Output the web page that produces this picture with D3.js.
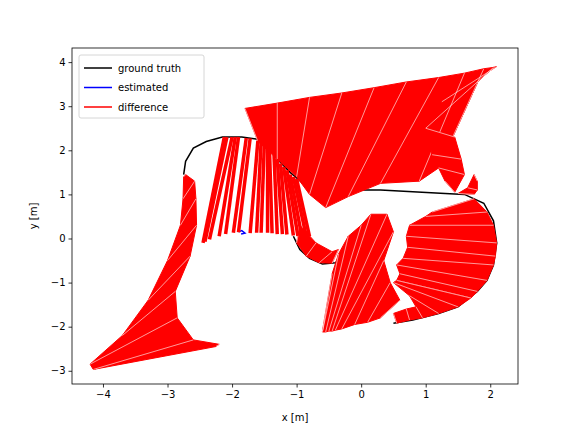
<!DOCTYPE html>
<html>
<head>
<meta charset="UTF-8">
<script src="https://d3js.org/d3.v7.min.js"></script>
<style>
  body { margin: 0; background: #fff; }
  text { font-family: "DejaVu Sans", sans-serif; }
</style>
</head>
<body>
<div id="chart"></div>
<script>
// ground truth path (visible parts)
const groundTruth = [[-2.75,1.45],[-2.72,1.75],[-2.6,2.05],[-2.4,2.2],[-2.15,2.3],[-1.85,2.3],[-1.6,2.25],[-1.45,2.1],[-1.3,1.8],[-1.1,1.5],[-0.9,1.25],[-0.6,1.12],[-0.2,1.1],[0.3,1.1],[0.8,1.06],[1.3,1.02],[1.6,1.0],[1.9,0.8],[2.05,0.4],[2.1,-0.1],[2.05,-0.6],[1.95,-0.95],[1.8,-1.2],[1.5,-1.55],[1.2,-1.7],[0.8,-1.85],[0.5,-1.92]];
const gtLoop = [[-1.05,0.05],[-0.95,-0.25],[-0.8,-0.45],[-0.6,-0.58],[-0.4,-0.55],[-0.3,-0.45]];
const estimated = [[-1.9,0.15],[-1.85,0.18],[-1.8,0.12],[-1.86,0.1]];

// difference regions: paired ground truth / estimate samples
const leftWedgeGt  = [[-2.72,1.45],[-2.58,1.3],[-2.56,0.9],[-2.55,0.3],[-2.65,-0.4],[-2.88,-1.2],[-2.85,-1.8],[-2.6,-2.3],[-2.2,-2.4]];
const leftWedgeEst = [[-2.75,1.4],[-2.76,0.9],[-2.8,0.3],[-3.0,-0.5],[-3.3,-1.4],[-3.7,-2.2],[-4.2,-2.85],[-4.15,-2.97],[-2.25,-2.45]];
const topFanGt  = [[-1.6,2.2],[-1.3,1.8],[-1.0,1.4],[-0.8,1.0],[-0.55,0.7],[-0.2,0.95],[0.3,1.25],[0.9,1.3],[1.2,1.6],[1.0,2.5],[1.25,3.1]];
const topFanEst = [[-1.8,2.95],[-1.3,3.07],[-0.8,3.2],[-0.3,3.3],[0.2,3.42],[0.7,3.55],[1.2,3.65],[1.6,3.75],[1.9,3.85],[2.05,3.88],[2.1,3.9]];
const sideFanGt  = [[1.45,2.3],[1.55,1.8],[1.6,1.45],[1.45,1.05]];
const sideFanEst = [[1.0,2.5],[1.1,1.9],[1.2,1.6],[1.3,1.3]];
const nookGt  = [[1.5,1.02],[1.65,1.15],[1.75,1.45]];
const nookEst = [[1.75,1.0],[1.8,1.1],[1.8,1.3]];
const thinFanGt  = [[-2.12,2.3],[-2.08,2.3],[-2.0,2.3],[-1.95,2.3],[-1.9,2.3],[-1.78,2.28],[-1.72,2.27],[-1.6,2.22],[-1.55,2.2],[-1.5,2.15],[-1.45,2.05],[-1.42,2.0],[-1.35,1.9],[-1.3,1.8],[-1.25,1.7],[-1.2,1.62],[-1.15,1.55],[-1.1,1.45],[-1.05,1.4],[-1.0,1.35]];
const thinFanEst = [[-2.45,-0.1],[-2.42,-0.07],[-2.35,-0.02],[-2.2,0.05],[-2.1,0.1],[-1.98,0.13],[-1.9,0.14],[-1.72,0.12],[-1.62,0.13],[-1.55,0.13],[-1.45,0.13],[-1.38,0.12],[-1.3,0.1],[-1.22,0.1],[-1.15,0.09],[-1.05,0.07],[-0.98,0.06],[-0.92,0.05],[-0.85,0.05],[-0.8,0.05]];
const rightBlobGt  = [[1.75,0.9],[1.95,0.6],[2.05,0.3],[2.1,-0.1],[2.08,-0.4],[2.05,-0.6],[1.95,-0.95],[1.8,-1.2],[1.7,-1.35]];
const rightBlobEst = [[1.1,0.6],[1.0,0.5],[0.75,0.3],[0.7,0.05],[0.72,-0.2],[0.65,-0.45],[0.55,-0.6],[0.6,-0.8],[0.55,-0.95]];
const lowFanGt  = [[1.7,-1.35],[1.5,-1.55],[1.2,-1.7],[0.95,-1.8],[0.75,-1.85],[0.55,-1.92]];
const lowFanEst = [[0.55,-0.95],[0.5,-1.0],[0.75,-1.3],[0.85,-1.55],[0.7,-1.6],[0.5,-1.7]];
const midFanGt  = [[-0.6,-2.1],[-0.6,-2.12],[-0.55,-2.12],[-0.5,-2.1],[-0.45,-2.1],[-0.4,-2.08],[-0.3,-2.05],[-0.1,-1.95],[0.1,-1.9],[0.3,-1.8]];
const midFanEst = [[-0.45,-0.8],[-0.35,-0.35],[-0.2,0.05],[0.0,0.3],[0.15,0.55],[0.4,0.55],[0.5,0.15],[0.35,-0.5],[0.45,-1.0],[0.6,-1.4]];
const loopFanGt  = [[-1.0,-0.1],[-0.85,-0.4],[-0.65,-0.55],[-0.45,-0.56]];
const loopFanEst = [[-0.95,0.3],[-0.7,-0.1],[-0.45,-0.3],[-0.35,-0.25]];

const regions = [
  [leftWedgeGt, leftWedgeEst], [topFanGt, topFanEst], [sideFanGt, sideFanEst],
  [nookGt, nookEst], [rightBlobGt, rightBlobEst], [lowFanGt, lowFanEst],
  [midFanGt, midFanEst], [loopFanGt, loopFanEst]
];

const xTicks = [-4, -3, -2, -1, 0, 1, 2];
const yTicks = [-3, -2, -1, 0, 1, 2, 3, 4];

const W = 576, H = 432;
const margin = {top: 48, right: 58, bottom: 48, left: 72};

const svg = d3.select("#chart").append("svg").attr("width", W).attr("height", H);

const x = d3.scaleLinear().domain([-4.48, 2.43]).range([margin.left, W - margin.right]);
const y = d3.scaleLinear().domain([-3.3, 4.32]).range([H - margin.bottom, margin.top]);

const line = d3.line().x(d => x(d[0])).y(d => y(d[1]));

svg.append("defs").append("clipPath").attr("id", "clip")
  .append("rect").attr("x", margin.left).attr("y", margin.top)
  .attr("width", W - margin.left - margin.right).attr("height", H - margin.top - margin.bottom);

const plot = svg.append("g").attr("clip-path", "url(#clip)");

plot.append("path").attr("d", line(groundTruth)).attr("fill", "none").attr("stroke", "black").attr("stroke-width", 1.5);
plot.append("path").attr("d", line(gtLoop)).attr("fill", "none").attr("stroke", "black").attr("stroke-width", 1.5);
plot.append("path").attr("d", line(estimated)).attr("fill", "none").attr("stroke", "blue").attr("stroke-width", 1.5);

// difference: filled quads between consecutive pairs, plus the pair lines
regions.forEach(([gt, est]) => {
  for (let i = 0; i < gt.length - 1; i++) {
    plot.append("path")
      .attr("d", line([gt[i], est[i], est[i + 1], gt[i + 1]]) + "Z")
      .attr("fill", "red").attr("stroke", "red").attr("stroke-width", 1);
  }
  gt.forEach((g, i) => {
    plot.append("path").attr("d", line([g, est[i]])).attr("stroke", "white").attr("stroke-width", 0.6);
  });
});
thinFanGt.forEach((g, i) => {
  plot.append("path").attr("d", line([g, thinFanEst[i]]))
    .attr("stroke", "red").attr("stroke-width", 3.5);
});

// axes
const xAxis = svg.append("g").attr("transform", `translate(0,${H - margin.bottom})`)
  .call(d3.axisBottom(x).tickValues(xTicks).tickSize(3.5).tickPadding(3).tickFormat(d => d < 0 ? "\u2212" + (-d) : d));
const yAxis = svg.append("g").attr("transform", `translate(${margin.left},0)`)
  .call(d3.axisLeft(y).tickValues(yTicks).tickSize(3.5).tickPadding(3).tickFormat(d => d < 0 ? "\u2212" + (-d) : d));
[xAxis, yAxis].forEach(a => {
  a.select(".domain").remove();
  a.selectAll("text").attr("font-size", 10).attr("fill", "black").attr("font-family", "DejaVu Sans");
  a.selectAll("line").attr("stroke", "black").attr("stroke-width", 0.8);
});

svg.append("rect").attr("x", margin.left).attr("y", margin.top)
  .attr("width", W - margin.left - margin.right).attr("height", H - margin.top - margin.bottom)
  .attr("fill", "none").attr("stroke", "black").attr("stroke-width", 0.8);

svg.append("text").attr("x", (margin.left + W - margin.right) / 2).attr("y", 421)
  .attr("text-anchor", "middle").attr("font-size", 10).text("x [m]");
svg.append("text").attr("transform", `translate(37,${(margin.top + H - margin.bottom) / 2}) rotate(-90)`)
  .attr("text-anchor", "middle").attr("font-size", 10).text("y [m]");

// legend
const legendNames = ["ground truth", "estimated", "difference"];
const legendColors = ["black", "blue", "red"];
const lg = svg.append("g");
lg.append("rect").attr("x", 79).attr("y", 55).attr("width", 125).attr("height", 63).attr("rx", 2)
  .attr("fill", "white").attr("fill-opacity", 0.8).attr("stroke", "#ccc").attr("stroke-width", 0.8);
legendNames.forEach((n, i) => {
  const yy = 68 + i * 19.5;
  lg.append("line").attr("x1", 84).attr("x2", 112).attr("y1", yy).attr("y2", yy)
    .attr("stroke", legendColors[i]).attr("stroke-width", 1.5);
  lg.append("text").attr("x", 118).attr("y", yy + 3.5).attr("font-size", 10).text(n);
});
</script>
</body>
</html>
